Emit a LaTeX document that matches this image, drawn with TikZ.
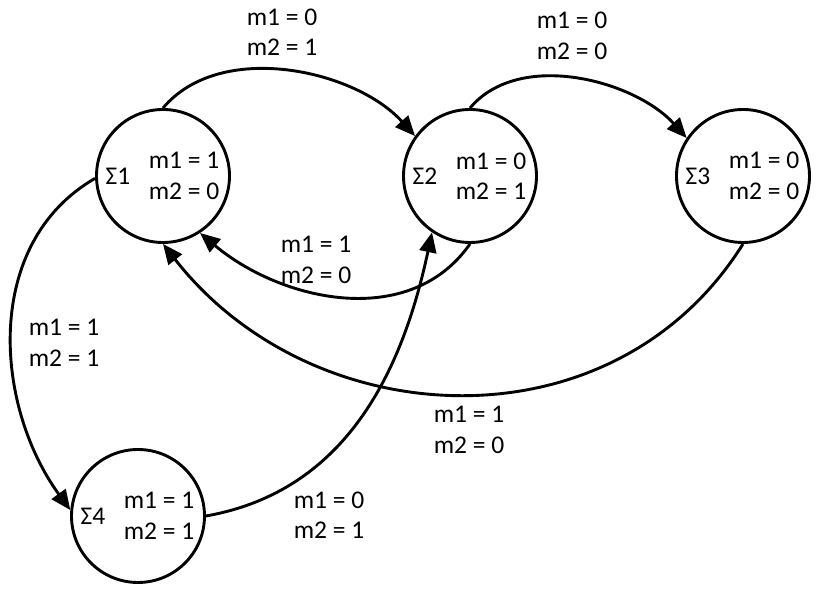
\documentclass[tikz,border=0pt]{standalone}
\usepackage{fontspec}
\setmainfont{Carlito}
\usetikzlibrary{arrows.meta}
\begin{document}
\begin{tikzpicture}[x=1pt,y=1pt,
  state/.style={circle,draw,line width=2.9pt,minimum size=133pt,inner sep=0pt},
  txt/.style={font=\fontsize{25.5}{30.5}\selectfont,align=center,inner sep=0pt},
  edge/.style={line width=2.9pt,-{Triangle[length=20pt,width=17pt]}}]
\useasboundingbox (0,0) rectangle (823,596);
\node[state] (s1) at (163,420) {};
\node[state] (s2) at (470,420) {};
\node[state] (s3) at (743,420) {};
\node[state] (s4) at (138,80) {};
\node[txt] (s1sig) at ([xshift=-45pt]s1.center) {Σ1};
\node[txt] (s1val) at ([xshift=21pt]s1.center) {m1 = 1\\m2 = 0};
\node[txt] (s2sig) at ([xshift=-45pt]s2.center) {Σ2};
\node[txt] (s2val) at ([xshift=21pt]s2.center) {m1 = 0\\m2 = 1};
\node[txt] (s3sig) at ([xshift=-45pt]s3.center) {Σ3};
\node[txt] (s3val) at ([xshift=21pt]s3.center) {m1 = 0\\m2 = 0};
\node[txt] (s4sig) at ([xshift=-45pt]s4.center) {Σ4};
\node[txt] (s4val) at ([xshift=21pt]s4.center) {m1 = 1\\m2 = 1};
\node[txt] (l1) at (282,564) {m1 = 0\\m2 = 1};
\node[txt] (l2) at (572,560) {m1 = 0\\m2 = 0};
\node[txt] (l3) at (316,336) {m1 = 1\\m2 = 0};
\node[txt] (l4) at (469,166) {m1 = 1\\m2 = 0};
\node[txt] (l5) at (64,253) {m1 = 1\\m2 = 1};
\node[txt] (l6) at (329,81) {m1 = 0\\m2 = 1};
\draw[edge] (s1.north) to[out=50,in=132,looseness=0.9] (s2.144);
\draw[edge] (s2.north) to[out=50,in=132,looseness=0.9] (s3.146);
\draw[edge] (s2.south) to[out=235,in=-40] (s1.-57);
\draw[edge] (s3.south) to[out=238,in=-52,looseness=1.08] (s1.south);
\draw[edge] (s1.182) to[out=210,in=126] (s4.175);
\draw[edge] (s4.east) to[out=10,in=-102] (s2.-124);
\end{tikzpicture}
\end{document}
